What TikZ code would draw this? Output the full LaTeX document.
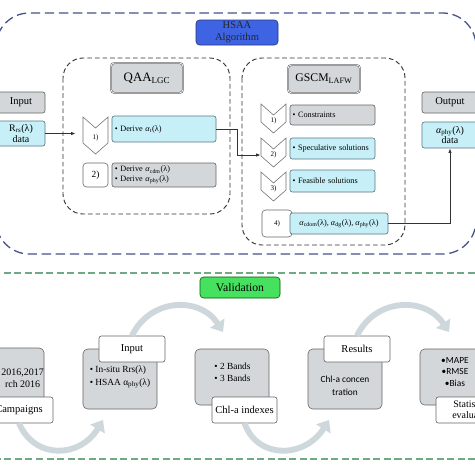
\documentclass[tikz,border=0pt]{standalone}
\usepackage{fontspec}
\setmainfont{Liberation Serif}
\newfontfamily\calib{Carlito}
\usetikzlibrary{shapes,arrows.meta,positioning,calc,shadows}

\definecolor{cyanfill}{RGB}{198,239,248}
\definecolor{cyanline}{RGB}{90,120,130}
\definecolor{greyfill}{RGB}{211,215,217}
\definecolor{hsaablue}{RGB}{62,100,228}
\definecolor{hsaaline}{RGB}{40,50,120}
\definecolor{navydash}{RGB}{70,82,140}
\definecolor{validgreen}{RGB}{70,225,95}
\definecolor{greendash}{RGB}{110,170,130}
\definecolor{arcgrey}{RGB}{206,215,220}

\newcommand{\alp}[1]{\textit{α}\textsubscript{#1}}
% chevron: name, left x, top y, body height, label
\newcommand{\chevron}[5]{%
  \draw[chev] (#2,#3) -- ++(12.5,11) -- ++(12.5,-11) -- ++(0,#4) -- ++(-12.5,11) -- ++(-12.5,-11) -- cycle;
  \node[chevtext] (#1) at (#2+12.5,#3+8+#4/2) {#5};
}

\begin{document}
\begin{tikzpicture}[
    x=0.03cm, y=-0.03cm,
    box/.style={rectangle, draw=black!60, rounded corners=2pt, align=center, inner sep=1pt, line width=0.5pt, font=\fontsize{7}{8}\selectfont},
    cyanbox/.style={box, fill=cyanfill, draw=cyanline},
    greybox/.style={box, fill=greyfill},
    whitebox/.style={box, fill=white},
    headbox/.style={box, fill=greyfill, font=\fontsize{9}{10}\selectfont},
    titlebox/.style={box, fill=greyfill, rounded corners=3pt, font=\fontsize{11}{12}\selectfont, double=white, double distance=0.6pt},
    chev/.style={draw=black!55, fill=white, line width=0.5pt},
    chevtext/.style={inner sep=0pt, minimum width=0.75cm, font=\fontsize{6}{7}\selectfont},
    group/.style={draw=black!80, dashed, rounded corners=0.6cm, line width=0.8pt},
    procbox/.style={box, fill=greyfill, rounded corners=4pt, font=\fontsize{8}{9.5}\selectfont},
    proclabel/.style={box, fill=white, rounded corners=2pt, font=\fontsize{9}{10}\selectfont},
    arrow/.style={-{Latex[length=4pt]}, line width=0.8pt, draw=black!80},
    bigarc/.style={-{Triangle[length=9pt,width=14pt]}, line width=5pt, draw=arcgrey}
]

\useasboundingbox[fill=white] (0,0) rectangle (474,474);

% Algorithm frame
\draw[navydash, dash pattern=on 8pt off 4pt, line width=1.1pt, rounded corners=1cm] (-4,13) rectangle (476,254);
\node[box, fill=hsaablue, draw=hsaaline, rounded corners=3pt, minimum width=2.46cm, minimum height=0.75cm, font=\fontsize{9}{10}\selectfont, text=black!85] (hsaa) at (237,32.5) {HSAA\\Algorithm};

% QAA group
\draw[group, dash pattern=on 4pt off 2.5pt] (63,58) rectangle (230,214);
\node[titlebox, minimum width=2.16cm, minimum height=0.9cm] (qaa) at (147,78) {QAA\textsubscript{LGC}};

% GSCM group
\draw[group, dash pattern=on 4pt off 2.5pt] (242,58) rectangle (405,245);
\node[titlebox, minimum width=2.16cm, minimum height=0.84cm, font=\fontsize{10}{11}\selectfont] (gscm) at (324,79) {GSCM\textsubscript{LAFW}};

% Input / Output
\node[headbox, minimum width=1.44cm, minimum height=0.63cm] (input) at (21,102.5) {Input};
\node[cyanbox, minimum width=1.44cm, minimum height=0.75cm, font=\fontsize{8.5}{9}\selectfont] (rrs) at (21,133.5) {R\textsubscript{rs}(λ)\\data};
\node[headbox, minimum width=1.68cm, minimum height=0.63cm] (output) at (450,102.5) {Output};
\node[cyanbox, minimum width=1.68cm, minimum height=0.78cm, font=\fontsize{8.5}{9}\selectfont] (aphy) at (450,135) {\alp{phy}(λ)\\data};

% QAA steps
\chevron{q1}{83}{117}{26}{1)}
\node[cyanbox, minimum width=3.12cm, minimum height=0.78cm, align=left, text width=2.95cm] (derat) at (164,129) {• Derive \alp{t}(λ)};
\node[whitebox, rounded corners=3pt, minimum width=0.75cm, minimum height=0.72cm, font=\fontsize{8}{9}\selectfont] (q2) at (95.5,175) {2)};
\node[greybox, minimum width=3.12cm, minimum height=0.72cm, align=left, text width=2.95cm] (dercdm) at (164,175) {• Derive \alp{cdm}(λ)\\• Derive \alp{phy}(λ)};

% GSCM steps
\chevron{g1}{261}{104}{18}{1)}
\chevron{g2}{261}{138}{18}{2)}
\chevron{g3}{261}{172}{18}{3)}
\node[greybox, minimum width=2.55cm, minimum height=0.6cm, align=left, text width=2.4cm] (constr) at (332.5,115) {• Constraints};
\node[cyanbox, minimum width=2.55cm, minimum height=0.63cm, align=left, text width=2.4cm] (spec) at (332.5,148.5) {• Speculative solutions};
\node[cyanbox, minimum width=2.55cm, minimum height=0.66cm, align=left, text width=2.4cm] (feas) at (332.5,181) {• Feasible solutions};
\node[whitebox, rounded corners=3pt, minimum width=0.9cm, minimum height=0.81cm, font=\fontsize{6}{7}\selectfont] (g4) at (277,223.5) {4)};
\node[cyanbox, minimum width=2.94cm, minimum height=0.63cm] (aout) at (339,223.5) {\alp{cdom}(λ), \alp{dg}(λ), \alp{phy}(λ)};

% Connectors
\draw[arrow, shorten >=6pt] (rrs.east) -- (rrs.east -| q1.west);
\draw[arrow] (derat.east) -- ++(21,0) |- (g2.west);
\draw[arrow] (aout.east) -| (aphy.south);

% Validation frame
\draw[greendash, dash pattern=on 6pt off 3pt, line width=1pt] (-10,273) rectangle (484,459);
\node[box, fill=validgreen, draw=green!35!black, rounded corners=3pt, minimum width=2.4cm, minimum height=0.63cm, font=\fontsize{10}{11}\selectfont] (valid) at (240,287.5) {Validation};

% Process boxes
\node[procbox, minimum width=2.22cm, minimum height=1.71cm] (campbox) at (7,376.5) {};
\node[anchor=east, align=center, inner sep=0pt, font=\fontsize{8.5}{10.5}\selectfont] (camptext) at (44,378) {2016,2017\\rch 2016};
\node[proclabel, minimum width=2.04cm, minimum height=0.78cm] (camp) at (19,410) {Campaigns};

\node[procbox, minimum width=2.22cm, minimum height=1.8cm] (inbox) at (120,379) {};
\node[align=left, inner sep=0pt, font=\fontsize{8}{11}\selectfont] (intext) at (120,377) {• In-situ Rrs(λ)\\• HSAA α\textsubscript{phy}(λ)};
\node[proclabel, minimum width=1.98cm, minimum height=0.78cm] (inlbl) at (132,349) {Input};

\node[procbox, minimum width=2.22cm, minimum height=1.68cm] (chlbox) at (232,377) {};
\node[align=left, inner sep=0pt, font=\fontsize{8}{10.5}\selectfont] (chltext) at (232.5,372) {• 2 Bands\\• 3 Bands};
\node[proclabel, minimum width=1.95cm, minimum height=0.78cm] (chl) at (244.5,410) {Chl-a indexes};

\node[procbox, minimum width=2.22cm, minimum height=1.8cm] (resbox) at (345,379) {};
\node[align=center, inner sep=0pt, font=\calib\fontsize{8}{11}\selectfont] (restext) at (345,386) {Chl-a concen\\tration};
\node[proclabel, minimum width=1.98cm, minimum height=0.78cm] (reslbl) at (357,349) {Results};

\node[procbox, minimum width=2.22cm, minimum height=1.68cm] (statbox) at (457,377) {};
\node[align=center, inner sep=0pt, font=\calib\fontsize{8}{10}\selectfont] (stattext) at (455,372) {•MAPE\\•RMSE\\•Bias};
\node[proclabel, minimum width=2.22cm, minimum height=0.78cm, font=\fontsize{8.5}{9.5}\selectfont] (stat) at (473,410) {Statistical\\evaluation};

% Flow arcs
\coordinate (arc1end) at (103,420);
\coordinate (arc2end) at (223,332);
\coordinate (arc3end) at (329,420);
\coordinate (arc4end) at (449,332);
\draw[bigarc] (camp.south) .. controls (35,460) and (80,458) .. (arc1end);
\draw[bigarc] (inlbl.north) .. controls (150,298) and (200,296) .. (arc2end);
\draw[bigarc] (chl.south) .. controls (258,460) and (305,458) .. (arc3end);
\draw[bigarc] (reslbl.north) .. controls (375,298) and (425,296) .. (arc4end);

\end{tikzpicture}
\end{document}
